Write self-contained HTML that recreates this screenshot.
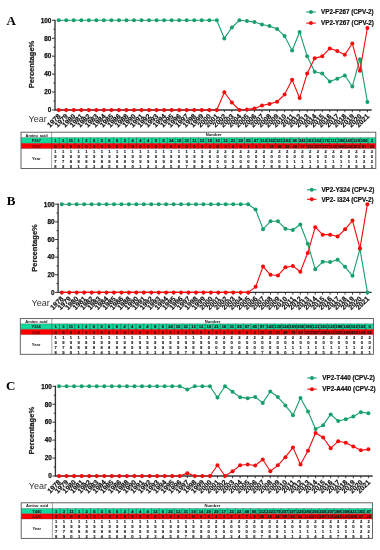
<!DOCTYPE html>
<html><head><meta charset="utf-8"><title>Figure</title><style>
html,body{margin:0;padding:0;background:#fff;}
body{width:380px;height:550px;overflow:hidden;}
svg{display:block;will-change:transform;filter:blur(0.25px);}
text{font-family:"Liberation Sans",sans-serif;}
.L{font-family:"Liberation Serif",serif;font-weight:bold;font-size:13px;fill:#000;}
.ax{stroke:#333;stroke-width:1.35;}
.tk{stroke:#222;stroke-width:0.9;fill:none;}
.yl{font-size:6.4px;font-weight:bold;text-anchor:end;fill:#111;stroke:#111;stroke-width:0.25px;}
.xl{font-size:7px;font-weight:bold;text-anchor:end;fill:#111;stroke:#111;stroke-width:0.2px;}
.yr{font-size:9px;fill:#333;}
.pc{font-size:7.6px;font-weight:bold;text-anchor:middle;fill:#222;stroke:#222;stroke-width:0.25px;}
.lg{font-size:6.3px;font-weight:bold;fill:#111;stroke:#111;stroke-width:0.2px;}
.th{font-size:4px;font-weight:bold;text-anchor:middle;fill:#111;}
.ta{font-size:4px;font-weight:bold;text-anchor:middle;fill:#111;}
.tr{fill:#600;}
.nb{font-size:4.2px;}
.aa{word-spacing:0.6px;}
.td{font-size:4.1px;font-weight:bold;text-anchor:middle;fill:#111;stroke:#111;stroke-width:0.12px;}
</style></head>
<body><svg width="380" height="550" viewBox="0 0 380 550">
<text x="6.6" y="25.0" class="L">A</text>
<line x1="55" y1="19.7" x2="55" y2="110.6" class="ax"/>
<line x1="52" y1="110" x2="55" y2="110" class="tk"/>
<text x="51.4" y="112.3" class="yl">0</text>
<line x1="53.4" y1="101.03" x2="55" y2="101.03" class="tk"/>
<line x1="52" y1="92.06" x2="55" y2="92.06" class="tk"/>
<text x="51.4" y="94.36" class="yl">20</text>
<line x1="53.4" y1="83.09" x2="55" y2="83.09" class="tk"/>
<line x1="52" y1="74.12" x2="55" y2="74.12" class="tk"/>
<text x="51.4" y="76.42" class="yl">40</text>
<line x1="53.4" y1="65.15" x2="55" y2="65.15" class="tk"/>
<line x1="52" y1="56.18" x2="55" y2="56.18" class="tk"/>
<text x="51.4" y="58.48" class="yl">60</text>
<line x1="53.4" y1="47.21" x2="55" y2="47.21" class="tk"/>
<line x1="52" y1="38.24" x2="55" y2="38.24" class="tk"/>
<text x="51.4" y="40.54" class="yl">80</text>
<line x1="53.4" y1="29.27" x2="55" y2="29.27" class="tk"/>
<line x1="52" y1="20.3" x2="55" y2="20.3" class="tk"/>
<text x="51.4" y="22.6" class="yl">100</text>
<line x1="55" y1="110" x2="371.7" y2="110" class="ax"/>
<path d="M58.7 110v2.2 M66.23 110v2.2 M73.76 110v2.2 M81.29 110v2.2 M88.82 110v2.2 M96.35 110v2.2 M103.88 110v2.2 M111.4 110v2.2 M118.93 110v2.2 M126.46 110v2.2 M133.99 110v2.2 M141.52 110v2.2 M149.05 110v2.2 M156.58 110v2.2 M164.11 110v2.2 M171.64 110v2.2 M179.17 110v2.2 M186.7 110v2.2 M194.23 110v2.2 M201.76 110v2.2 M209.29 110v2.2 M216.81 110v2.2 M224.34 110v2.2 M231.87 110v2.2 M239.4 110v2.2 M246.93 110v2.2 M254.46 110v2.2 M261.99 110v2.2 M269.52 110v2.2 M277.05 110v2.2 M284.58 110v2.2 M292.11 110v2.2 M299.64 110v2.2 M307.17 110v2.2 M314.7 110v2.2 M322.22 110v2.2 M329.75 110v2.2 M337.28 110v2.2 M344.81 110v2.2 M352.34 110v2.2 M359.87 110v2.2 M367.4 110v2.2" class="tk"/>
<text transform="translate(61,116.8) rotate(-45)" class="xl">1978</text>
<text transform="translate(68.53,116.8) rotate(-45)" class="xl">1979</text>
<text transform="translate(76.06,116.8) rotate(-45)" class="xl">1980</text>
<text transform="translate(83.59,116.8) rotate(-45)" class="xl">1981</text>
<text transform="translate(91.12,116.8) rotate(-45)" class="xl">1982</text>
<text transform="translate(98.65,116.8) rotate(-45)" class="xl">1983</text>
<text transform="translate(106.18,116.8) rotate(-45)" class="xl">1984</text>
<text transform="translate(113.7,116.8) rotate(-45)" class="xl">1985</text>
<text transform="translate(121.23,116.8) rotate(-45)" class="xl">1986</text>
<text transform="translate(128.76,116.8) rotate(-45)" class="xl">1988</text>
<text transform="translate(136.29,116.8) rotate(-45)" class="xl">1990</text>
<text transform="translate(143.82,116.8) rotate(-45)" class="xl">1991</text>
<text transform="translate(151.35,116.8) rotate(-45)" class="xl">1992</text>
<text transform="translate(158.88,116.8) rotate(-45)" class="xl">1993</text>
<text transform="translate(166.41,116.8) rotate(-45)" class="xl">1994</text>
<text transform="translate(173.94,116.8) rotate(-45)" class="xl">1995</text>
<text transform="translate(181.47,116.8) rotate(-45)" class="xl">1996</text>
<text transform="translate(189,116.8) rotate(-45)" class="xl">1997</text>
<text transform="translate(196.53,116.8) rotate(-45)" class="xl">1998</text>
<text transform="translate(204.06,116.8) rotate(-45)" class="xl">1999</text>
<text transform="translate(211.59,116.8) rotate(-45)" class="xl">2000</text>
<text transform="translate(219.11,116.8) rotate(-45)" class="xl">2001</text>
<text transform="translate(226.64,116.8) rotate(-45)" class="xl">2002</text>
<text transform="translate(234.17,116.8) rotate(-45)" class="xl">2003</text>
<text transform="translate(241.7,116.8) rotate(-45)" class="xl">2004</text>
<text transform="translate(249.23,116.8) rotate(-45)" class="xl">2005</text>
<text transform="translate(256.76,116.8) rotate(-45)" class="xl">2006</text>
<text transform="translate(264.29,116.8) rotate(-45)" class="xl">2007</text>
<text transform="translate(271.82,116.8) rotate(-45)" class="xl">2008</text>
<text transform="translate(279.35,116.8) rotate(-45)" class="xl">2009</text>
<text transform="translate(286.88,116.8) rotate(-45)" class="xl">2010</text>
<text transform="translate(294.41,116.8) rotate(-45)" class="xl">2011</text>
<text transform="translate(301.94,116.8) rotate(-45)" class="xl">2012</text>
<text transform="translate(309.47,116.8) rotate(-45)" class="xl">2013</text>
<text transform="translate(317,116.8) rotate(-45)" class="xl">2014</text>
<text transform="translate(324.52,116.8) rotate(-45)" class="xl">2015</text>
<text transform="translate(332.05,116.8) rotate(-45)" class="xl">2016</text>
<text transform="translate(339.58,116.8) rotate(-45)" class="xl">2017</text>
<text transform="translate(347.11,116.8) rotate(-45)" class="xl">2018</text>
<text transform="translate(354.64,116.8) rotate(-45)" class="xl">2019</text>
<text transform="translate(362.17,116.8) rotate(-45)" class="xl">2020</text>
<text transform="translate(369.7,116.8) rotate(-45)" class="xl">2021</text>
<text x="28.5" y="122.4" class="yr">Year</text>
<text transform="translate(33.8,64.5) rotate(-90)" class="pc">Percentage%</text>
<polyline points="58.7,20.3 66.23,20.3 73.76,20.3 81.29,20.3 88.82,20.3 96.35,20.3 103.88,20.3 111.4,20.3 118.93,20.3 126.46,20.3 133.99,20.3 141.52,20.3 149.05,20.3 156.58,20.3 164.11,20.3 171.64,20.3 179.17,20.3 186.7,20.3 194.23,20.3 201.76,20.3 209.29,20.3 216.81,20.3 224.34,38.42 231.87,27.48 239.4,20.3 246.93,21.02 254.46,22.09 261.99,24.52 269.52,26.04 277.05,28.91 284.58,36.09 292.11,50.44 299.64,31.96 307.17,56.36 314.7,71.79 322.22,73.58 329.75,81.48 337.28,78.78 344.81,75.47 352.34,86.5 359.87,59.14 367.4,101.93" fill="none" stroke="#17a06c" stroke-width="1.1" stroke-linejoin="round"/>
<g fill="#17a06c"><circle cx="58.7" cy="20.3" r="2"/><circle cx="66.23" cy="20.3" r="2"/><circle cx="73.76" cy="20.3" r="2"/><circle cx="81.29" cy="20.3" r="2"/><circle cx="88.82" cy="20.3" r="2"/><circle cx="96.35" cy="20.3" r="2"/><circle cx="103.88" cy="20.3" r="2"/><circle cx="111.4" cy="20.3" r="2"/><circle cx="118.93" cy="20.3" r="2"/><circle cx="126.46" cy="20.3" r="2"/><circle cx="133.99" cy="20.3" r="2"/><circle cx="141.52" cy="20.3" r="2"/><circle cx="149.05" cy="20.3" r="2"/><circle cx="156.58" cy="20.3" r="2"/><circle cx="164.11" cy="20.3" r="2"/><circle cx="171.64" cy="20.3" r="2"/><circle cx="179.17" cy="20.3" r="2"/><circle cx="186.7" cy="20.3" r="2"/><circle cx="194.23" cy="20.3" r="2"/><circle cx="201.76" cy="20.3" r="2"/><circle cx="209.29" cy="20.3" r="2"/><circle cx="216.81" cy="20.3" r="2"/><circle cx="224.34" cy="38.42" r="2"/><circle cx="231.87" cy="27.48" r="2"/><circle cx="239.4" cy="20.3" r="2"/><circle cx="246.93" cy="21.02" r="2"/><circle cx="254.46" cy="22.09" r="2"/><circle cx="261.99" cy="24.52" r="2"/><circle cx="269.52" cy="26.04" r="2"/><circle cx="277.05" cy="28.91" r="2"/><circle cx="284.58" cy="36.09" r="2"/><circle cx="292.11" cy="50.44" r="2"/><circle cx="299.64" cy="31.96" r="2"/><circle cx="307.17" cy="56.36" r="2"/><circle cx="314.7" cy="71.79" r="2"/><circle cx="322.22" cy="73.58" r="2"/><circle cx="329.75" cy="81.48" r="2"/><circle cx="337.28" cy="78.78" r="2"/><circle cx="344.81" cy="75.47" r="2"/><circle cx="352.34" cy="86.5" r="2"/><circle cx="359.87" cy="59.14" r="2"/><circle cx="367.4" cy="101.93" r="2"/></g>
<polyline points="58.7,110 66.23,110 73.76,110 81.29,110 88.82,110 96.35,110 103.88,110 111.4,110 118.93,110 126.46,110 133.99,110 141.52,110 149.05,110 156.58,110 164.11,110 171.64,110 179.17,110 186.7,110 194.23,110 201.76,110 209.29,110 216.81,110 224.34,92.24 231.87,102.55 239.4,110 246.93,109.46 254.46,108.39 261.99,105.52 269.52,103.9 277.05,101.75 284.58,94.57 292.11,79.86 299.64,98.07 307.17,73.58 314.7,58.15 322.22,56.36 329.75,48.38 337.28,51.07 344.81,54.66 352.34,43.53 359.87,70.8 367.4,28.01" fill="none" stroke="#f50a0a" stroke-width="1.1" stroke-linejoin="round"/>
<g fill="#f50a0a"><circle cx="58.7" cy="110" r="2"/><circle cx="66.23" cy="110" r="2"/><circle cx="73.76" cy="110" r="2"/><circle cx="81.29" cy="110" r="2"/><circle cx="88.82" cy="110" r="2"/><circle cx="96.35" cy="110" r="2"/><circle cx="103.88" cy="110" r="2"/><circle cx="111.4" cy="110" r="2"/><circle cx="118.93" cy="110" r="2"/><circle cx="126.46" cy="110" r="2"/><circle cx="133.99" cy="110" r="2"/><circle cx="141.52" cy="110" r="2"/><circle cx="149.05" cy="110" r="2"/><circle cx="156.58" cy="110" r="2"/><circle cx="164.11" cy="110" r="2"/><circle cx="171.64" cy="110" r="2"/><circle cx="179.17" cy="110" r="2"/><circle cx="186.7" cy="110" r="2"/><circle cx="194.23" cy="110" r="2"/><circle cx="201.76" cy="110" r="2"/><circle cx="209.29" cy="110" r="2"/><circle cx="216.81" cy="110" r="2"/><circle cx="224.34" cy="92.24" r="2"/><circle cx="231.87" cy="102.55" r="2"/><circle cx="239.4" cy="110" r="2"/><circle cx="246.93" cy="109.46" r="2"/><circle cx="254.46" cy="108.39" r="2"/><circle cx="261.99" cy="105.52" r="2"/><circle cx="269.52" cy="103.9" r="2"/><circle cx="277.05" cy="101.75" r="2"/><circle cx="284.58" cy="94.57" r="2"/><circle cx="292.11" cy="79.86" r="2"/><circle cx="299.64" cy="98.07" r="2"/><circle cx="307.17" cy="73.58" r="2"/><circle cx="314.7" cy="58.15" r="2"/><circle cx="322.22" cy="56.36" r="2"/><circle cx="329.75" cy="48.38" r="2"/><circle cx="337.28" cy="51.07" r="2"/><circle cx="344.81" cy="54.66" r="2"/><circle cx="352.34" cy="43.53" r="2"/><circle cx="359.87" cy="70.8" r="2"/><circle cx="367.4" cy="28.01" r="2"/></g>
<line x1="306.2" y1="12" x2="315.7" y2="12" stroke="#17a06c" stroke-width="1.1"/>
<circle cx="310.95" cy="12" r="2" fill="#17a06c"/>
<text x="321.1" y="14.2" class="lg">VP2-F267 (CPV-2)</text>
<line x1="306.2" y1="23.1" x2="315.7" y2="23.1" stroke="#f50a0a" stroke-width="1.1"/>
<circle cx="310.95" cy="23.1" r="2" fill="#f50a0a"/>
<text x="321.1" y="25.3" class="lg">VP2-Y267 (CPV-2)</text>
<text x="6.7" y="204.5" class="L">B</text>
<line x1="58.1" y1="203.6" x2="58.1" y2="293" class="ax"/>
<line x1="55.1" y1="292.4" x2="58.1" y2="292.4" class="tk"/>
<text x="54.5" y="294.7" class="yl">0</text>
<line x1="56.5" y1="283.58" x2="58.1" y2="283.58" class="tk"/>
<line x1="55.1" y1="274.76" x2="58.1" y2="274.76" class="tk"/>
<text x="54.5" y="277.06" class="yl">20</text>
<line x1="56.5" y1="265.94" x2="58.1" y2="265.94" class="tk"/>
<line x1="55.1" y1="257.12" x2="58.1" y2="257.12" class="tk"/>
<text x="54.5" y="259.42" class="yl">40</text>
<line x1="56.5" y1="248.3" x2="58.1" y2="248.3" class="tk"/>
<line x1="55.1" y1="239.48" x2="58.1" y2="239.48" class="tk"/>
<text x="54.5" y="241.78" class="yl">60</text>
<line x1="56.5" y1="230.66" x2="58.1" y2="230.66" class="tk"/>
<line x1="55.1" y1="221.84" x2="58.1" y2="221.84" class="tk"/>
<text x="54.5" y="224.14" class="yl">80</text>
<line x1="56.5" y1="213.02" x2="58.1" y2="213.02" class="tk"/>
<line x1="55.1" y1="204.2" x2="58.1" y2="204.2" class="tk"/>
<text x="54.5" y="206.5" class="yl">100</text>
<line x1="58.1" y1="292.4" x2="371.7" y2="292.4" class="ax"/>
<path d="M61.8 292.4v2.2 M69.25 292.4v2.2 M76.71 292.4v2.2 M84.16 292.4v2.2 M91.61 292.4v2.2 M99.07 292.4v2.2 M106.52 292.4v2.2 M113.98 292.4v2.2 M121.43 292.4v2.2 M128.88 292.4v2.2 M136.34 292.4v2.2 M143.79 292.4v2.2 M151.24 292.4v2.2 M158.7 292.4v2.2 M166.15 292.4v2.2 M173.6 292.4v2.2 M181.06 292.4v2.2 M188.51 292.4v2.2 M195.97 292.4v2.2 M203.42 292.4v2.2 M210.87 292.4v2.2 M218.33 292.4v2.2 M225.78 292.4v2.2 M233.23 292.4v2.2 M240.69 292.4v2.2 M248.14 292.4v2.2 M255.6 292.4v2.2 M263.05 292.4v2.2 M270.5 292.4v2.2 M277.96 292.4v2.2 M285.41 292.4v2.2 M292.86 292.4v2.2 M300.32 292.4v2.2 M307.77 292.4v2.2 M315.22 292.4v2.2 M322.68 292.4v2.2 M330.13 292.4v2.2 M337.59 292.4v2.2 M345.04 292.4v2.2 M352.49 292.4v2.2 M359.95 292.4v2.2 M367.4 292.4v2.2" class="tk"/>
<text transform="translate(64.1,299.2) rotate(-45)" class="xl">1978</text>
<text transform="translate(71.55,299.2) rotate(-45)" class="xl">1979</text>
<text transform="translate(79.01,299.2) rotate(-45)" class="xl">1980</text>
<text transform="translate(86.46,299.2) rotate(-45)" class="xl">1981</text>
<text transform="translate(93.91,299.2) rotate(-45)" class="xl">1982</text>
<text transform="translate(101.37,299.2) rotate(-45)" class="xl">1983</text>
<text transform="translate(108.82,299.2) rotate(-45)" class="xl">1984</text>
<text transform="translate(116.28,299.2) rotate(-45)" class="xl">1985</text>
<text transform="translate(123.73,299.2) rotate(-45)" class="xl">1986</text>
<text transform="translate(131.18,299.2) rotate(-45)" class="xl">1988</text>
<text transform="translate(138.64,299.2) rotate(-45)" class="xl">1990</text>
<text transform="translate(146.09,299.2) rotate(-45)" class="xl">1991</text>
<text transform="translate(153.54,299.2) rotate(-45)" class="xl">1992</text>
<text transform="translate(161,299.2) rotate(-45)" class="xl">1993</text>
<text transform="translate(168.45,299.2) rotate(-45)" class="xl">1994</text>
<text transform="translate(175.9,299.2) rotate(-45)" class="xl">1995</text>
<text transform="translate(183.36,299.2) rotate(-45)" class="xl">1996</text>
<text transform="translate(190.81,299.2) rotate(-45)" class="xl">1997</text>
<text transform="translate(198.27,299.2) rotate(-45)" class="xl">1998</text>
<text transform="translate(205.72,299.2) rotate(-45)" class="xl">1999</text>
<text transform="translate(213.17,299.2) rotate(-45)" class="xl">2000</text>
<text transform="translate(220.63,299.2) rotate(-45)" class="xl">2001</text>
<text transform="translate(228.08,299.2) rotate(-45)" class="xl">2002</text>
<text transform="translate(235.53,299.2) rotate(-45)" class="xl">2003</text>
<text transform="translate(242.99,299.2) rotate(-45)" class="xl">2004</text>
<text transform="translate(250.44,299.2) rotate(-45)" class="xl">2005</text>
<text transform="translate(257.9,299.2) rotate(-45)" class="xl">2006</text>
<text transform="translate(265.35,299.2) rotate(-45)" class="xl">2007</text>
<text transform="translate(272.8,299.2) rotate(-45)" class="xl">2008</text>
<text transform="translate(280.26,299.2) rotate(-45)" class="xl">2009</text>
<text transform="translate(287.71,299.2) rotate(-45)" class="xl">2010</text>
<text transform="translate(295.16,299.2) rotate(-45)" class="xl">2011</text>
<text transform="translate(302.62,299.2) rotate(-45)" class="xl">2012</text>
<text transform="translate(310.07,299.2) rotate(-45)" class="xl">2013</text>
<text transform="translate(317.52,299.2) rotate(-45)" class="xl">2014</text>
<text transform="translate(324.98,299.2) rotate(-45)" class="xl">2015</text>
<text transform="translate(332.43,299.2) rotate(-45)" class="xl">2016</text>
<text transform="translate(339.89,299.2) rotate(-45)" class="xl">2017</text>
<text transform="translate(347.34,299.2) rotate(-45)" class="xl">2018</text>
<text transform="translate(354.79,299.2) rotate(-45)" class="xl">2019</text>
<text transform="translate(362.25,299.2) rotate(-45)" class="xl">2020</text>
<text transform="translate(369.7,299.2) rotate(-45)" class="xl">2021</text>
<text x="31.5" y="305.5" class="yr">Year</text>
<text transform="translate(37,248) rotate(-90)" class="pc">Percentage%</text>
<polyline points="61.8,204.2 69.25,204.2 76.71,204.2 84.16,204.2 91.61,204.2 99.07,204.2 106.52,204.2 113.98,204.2 121.43,204.2 128.88,204.2 136.34,204.2 143.79,204.2 151.24,204.2 158.7,204.2 166.15,204.2 173.6,204.2 181.06,204.2 188.51,204.2 195.97,204.2 203.42,204.2 210.87,204.2 218.33,204.2 225.78,204.2 233.23,204.2 240.69,204.2 248.14,204.2 255.6,209.49 263.05,229.16 270.5,221.31 277.96,221.31 285.41,228.72 292.86,230.04 300.32,224.49 307.77,243.71 315.22,269.2 322.68,261.79 330.13,262.06 337.59,259.68 345.04,266.82 352.49,275.82 359.95,249.01 367.4,292.4" fill="none" stroke="#17a06c" stroke-width="1.1" stroke-linejoin="round"/>
<g fill="#17a06c"><circle cx="61.8" cy="204.2" r="2"/><circle cx="69.25" cy="204.2" r="2"/><circle cx="76.71" cy="204.2" r="2"/><circle cx="84.16" cy="204.2" r="2"/><circle cx="91.61" cy="204.2" r="2"/><circle cx="99.07" cy="204.2" r="2"/><circle cx="106.52" cy="204.2" r="2"/><circle cx="113.98" cy="204.2" r="2"/><circle cx="121.43" cy="204.2" r="2"/><circle cx="128.88" cy="204.2" r="2"/><circle cx="136.34" cy="204.2" r="2"/><circle cx="143.79" cy="204.2" r="2"/><circle cx="151.24" cy="204.2" r="2"/><circle cx="158.7" cy="204.2" r="2"/><circle cx="166.15" cy="204.2" r="2"/><circle cx="173.6" cy="204.2" r="2"/><circle cx="181.06" cy="204.2" r="2"/><circle cx="188.51" cy="204.2" r="2"/><circle cx="195.97" cy="204.2" r="2"/><circle cx="203.42" cy="204.2" r="2"/><circle cx="210.87" cy="204.2" r="2"/><circle cx="218.33" cy="204.2" r="2"/><circle cx="225.78" cy="204.2" r="2"/><circle cx="233.23" cy="204.2" r="2"/><circle cx="240.69" cy="204.2" r="2"/><circle cx="248.14" cy="204.2" r="2"/><circle cx="255.6" cy="209.49" r="2"/><circle cx="263.05" cy="229.16" r="2"/><circle cx="270.5" cy="221.31" r="2"/><circle cx="277.96" cy="221.31" r="2"/><circle cx="285.41" cy="228.72" r="2"/><circle cx="292.86" cy="230.04" r="2"/><circle cx="300.32" cy="224.49" r="2"/><circle cx="307.77" cy="243.71" r="2"/><circle cx="315.22" cy="269.2" r="2"/><circle cx="322.68" cy="261.79" r="2"/><circle cx="330.13" cy="262.06" r="2"/><circle cx="337.59" cy="259.68" r="2"/><circle cx="345.04" cy="266.82" r="2"/><circle cx="352.49" cy="275.82" r="2"/><circle cx="359.95" cy="249.01" r="2"/><circle cx="367.4" cy="292.4" r="2"/></g>
<polyline points="61.8,292.4 69.25,292.4 76.71,292.4 84.16,292.4 91.61,292.4 99.07,292.4 106.52,292.4 113.98,292.4 121.43,292.4 128.88,292.4 136.34,292.4 143.79,292.4 151.24,292.4 158.7,292.4 166.15,292.4 173.6,292.4 181.06,292.4 188.51,292.4 195.97,292.4 203.42,292.4 210.87,292.4 218.33,292.4 225.78,292.4 233.23,292.4 240.69,292.4 248.14,292.4 255.6,286.84 263.05,266.56 270.5,274.76 277.96,275.47 285.41,267.35 292.86,265.94 300.32,271.76 307.77,252.89 315.22,227.13 322.68,234.63 330.13,234.63 337.59,236.48 345.04,229.34 352.49,220.61 359.95,248.3 367.4,204.2" fill="none" stroke="#f50a0a" stroke-width="1.1" stroke-linejoin="round"/>
<g fill="#f50a0a"><circle cx="61.8" cy="292.4" r="2"/><circle cx="69.25" cy="292.4" r="2"/><circle cx="76.71" cy="292.4" r="2"/><circle cx="84.16" cy="292.4" r="2"/><circle cx="91.61" cy="292.4" r="2"/><circle cx="99.07" cy="292.4" r="2"/><circle cx="106.52" cy="292.4" r="2"/><circle cx="113.98" cy="292.4" r="2"/><circle cx="121.43" cy="292.4" r="2"/><circle cx="128.88" cy="292.4" r="2"/><circle cx="136.34" cy="292.4" r="2"/><circle cx="143.79" cy="292.4" r="2"/><circle cx="151.24" cy="292.4" r="2"/><circle cx="158.7" cy="292.4" r="2"/><circle cx="166.15" cy="292.4" r="2"/><circle cx="173.6" cy="292.4" r="2"/><circle cx="181.06" cy="292.4" r="2"/><circle cx="188.51" cy="292.4" r="2"/><circle cx="195.97" cy="292.4" r="2"/><circle cx="203.42" cy="292.4" r="2"/><circle cx="210.87" cy="292.4" r="2"/><circle cx="218.33" cy="292.4" r="2"/><circle cx="225.78" cy="292.4" r="2"/><circle cx="233.23" cy="292.4" r="2"/><circle cx="240.69" cy="292.4" r="2"/><circle cx="248.14" cy="292.4" r="2"/><circle cx="255.6" cy="286.84" r="2"/><circle cx="263.05" cy="266.56" r="2"/><circle cx="270.5" cy="274.76" r="2"/><circle cx="277.96" cy="275.47" r="2"/><circle cx="285.41" cy="267.35" r="2"/><circle cx="292.86" cy="265.94" r="2"/><circle cx="300.32" cy="271.76" r="2"/><circle cx="307.77" cy="252.89" r="2"/><circle cx="315.22" cy="227.13" r="2"/><circle cx="322.68" cy="234.63" r="2"/><circle cx="330.13" cy="234.63" r="2"/><circle cx="337.59" cy="236.48" r="2"/><circle cx="345.04" cy="229.34" r="2"/><circle cx="352.49" cy="220.61" r="2"/><circle cx="359.95" cy="248.3" r="2"/><circle cx="367.4" cy="204.2" r="2"/></g>
<line x1="307" y1="189.8" x2="316.5" y2="189.8" stroke="#17a06c" stroke-width="1.1"/>
<circle cx="311.75" cy="189.8" r="2" fill="#17a06c"/>
<text x="321.4" y="192" class="lg">VP2-Y324 (CPV-2)</text>
<line x1="307" y1="199.3" x2="316.5" y2="199.3" stroke="#f50a0a" stroke-width="1.1"/>
<circle cx="311.75" cy="199.3" r="2" fill="#f50a0a"/>
<text x="321.4" y="201.5" class="lg">VP2- I324 (CPV-2)</text>
<text x="6.1" y="390.4" class="L">C</text>
<line x1="55.4" y1="385.7" x2="55.4" y2="476.6" class="ax"/>
<line x1="52.4" y1="476" x2="55.4" y2="476" class="tk"/>
<text x="51.8" y="478.3" class="yl">0</text>
<line x1="53.8" y1="467.03" x2="55.4" y2="467.03" class="tk"/>
<line x1="52.4" y1="458.06" x2="55.4" y2="458.06" class="tk"/>
<text x="51.8" y="460.36" class="yl">20</text>
<line x1="53.8" y1="449.09" x2="55.4" y2="449.09" class="tk"/>
<line x1="52.4" y1="440.12" x2="55.4" y2="440.12" class="tk"/>
<text x="51.8" y="442.42" class="yl">40</text>
<line x1="53.8" y1="431.15" x2="55.4" y2="431.15" class="tk"/>
<line x1="52.4" y1="422.18" x2="55.4" y2="422.18" class="tk"/>
<text x="51.8" y="424.48" class="yl">60</text>
<line x1="53.8" y1="413.21" x2="55.4" y2="413.21" class="tk"/>
<line x1="52.4" y1="404.24" x2="55.4" y2="404.24" class="tk"/>
<text x="51.8" y="406.54" class="yl">80</text>
<line x1="53.8" y1="395.27" x2="55.4" y2="395.27" class="tk"/>
<line x1="52.4" y1="386.3" x2="55.4" y2="386.3" class="tk"/>
<text x="51.8" y="388.6" class="yl">100</text>
<line x1="55.4" y1="476" x2="372.7" y2="476" class="ax"/>
<path d="M59 476v2.2 M66.55 476v2.2 M74.09 476v2.2 M81.64 476v2.2 M89.19 476v2.2 M96.73 476v2.2 M104.28 476v2.2 M111.82 476v2.2 M119.37 476v2.2 M126.92 476v2.2 M134.46 476v2.2 M142.01 476v2.2 M149.56 476v2.2 M157.1 476v2.2 M164.65 476v2.2 M172.2 476v2.2 M179.74 476v2.2 M187.29 476v2.2 M194.83 476v2.2 M202.38 476v2.2 M209.93 476v2.2 M217.47 476v2.2 M225.02 476v2.2 M232.57 476v2.2 M240.11 476v2.2 M247.66 476v2.2 M255.2 476v2.2 M262.75 476v2.2 M270.3 476v2.2 M277.84 476v2.2 M285.39 476v2.2 M292.94 476v2.2 M300.48 476v2.2 M308.03 476v2.2 M315.58 476v2.2 M323.12 476v2.2 M330.67 476v2.2 M338.21 476v2.2 M345.76 476v2.2 M353.31 476v2.2 M360.85 476v2.2 M368.4 476v2.2" class="tk"/>
<text transform="translate(61.3,482.8) rotate(-45)" class="xl">1978</text>
<text transform="translate(68.85,482.8) rotate(-45)" class="xl">1979</text>
<text transform="translate(76.39,482.8) rotate(-45)" class="xl">1980</text>
<text transform="translate(83.94,482.8) rotate(-45)" class="xl">1981</text>
<text transform="translate(91.49,482.8) rotate(-45)" class="xl">1982</text>
<text transform="translate(99.03,482.8) rotate(-45)" class="xl">1983</text>
<text transform="translate(106.58,482.8) rotate(-45)" class="xl">1984</text>
<text transform="translate(114.12,482.8) rotate(-45)" class="xl">1985</text>
<text transform="translate(121.67,482.8) rotate(-45)" class="xl">1986</text>
<text transform="translate(129.22,482.8) rotate(-45)" class="xl">1988</text>
<text transform="translate(136.76,482.8) rotate(-45)" class="xl">1990</text>
<text transform="translate(144.31,482.8) rotate(-45)" class="xl">1991</text>
<text transform="translate(151.86,482.8) rotate(-45)" class="xl">1992</text>
<text transform="translate(159.4,482.8) rotate(-45)" class="xl">1993</text>
<text transform="translate(166.95,482.8) rotate(-45)" class="xl">1994</text>
<text transform="translate(174.5,482.8) rotate(-45)" class="xl">1995</text>
<text transform="translate(182.04,482.8) rotate(-45)" class="xl">1996</text>
<text transform="translate(189.59,482.8) rotate(-45)" class="xl">1997</text>
<text transform="translate(197.13,482.8) rotate(-45)" class="xl">1998</text>
<text transform="translate(204.68,482.8) rotate(-45)" class="xl">1999</text>
<text transform="translate(212.23,482.8) rotate(-45)" class="xl">2000</text>
<text transform="translate(219.77,482.8) rotate(-45)" class="xl">2001</text>
<text transform="translate(227.32,482.8) rotate(-45)" class="xl">2002</text>
<text transform="translate(234.87,482.8) rotate(-45)" class="xl">2003</text>
<text transform="translate(242.41,482.8) rotate(-45)" class="xl">2004</text>
<text transform="translate(249.96,482.8) rotate(-45)" class="xl">2005</text>
<text transform="translate(257.5,482.8) rotate(-45)" class="xl">2006</text>
<text transform="translate(265.05,482.8) rotate(-45)" class="xl">2007</text>
<text transform="translate(272.6,482.8) rotate(-45)" class="xl">2008</text>
<text transform="translate(280.14,482.8) rotate(-45)" class="xl">2009</text>
<text transform="translate(287.69,482.8) rotate(-45)" class="xl">2010</text>
<text transform="translate(295.24,482.8) rotate(-45)" class="xl">2011</text>
<text transform="translate(302.78,482.8) rotate(-45)" class="xl">2012</text>
<text transform="translate(310.33,482.8) rotate(-45)" class="xl">2013</text>
<text transform="translate(317.88,482.8) rotate(-45)" class="xl">2014</text>
<text transform="translate(325.42,482.8) rotate(-45)" class="xl">2015</text>
<text transform="translate(332.97,482.8) rotate(-45)" class="xl">2016</text>
<text transform="translate(340.51,482.8) rotate(-45)" class="xl">2017</text>
<text transform="translate(348.06,482.8) rotate(-45)" class="xl">2018</text>
<text transform="translate(355.61,482.8) rotate(-45)" class="xl">2019</text>
<text transform="translate(363.15,482.8) rotate(-45)" class="xl">2020</text>
<text transform="translate(370.7,482.8) rotate(-45)" class="xl">2021</text>
<text x="28.8" y="488.8" class="yr">Year</text>
<text transform="translate(33.9,430.7) rotate(-90)" class="pc">Percentage%</text>
<polyline points="59,386.3 66.55,386.3 74.09,386.3 81.64,386.3 89.19,386.3 96.73,386.3 104.28,386.3 111.82,386.3 119.37,386.3 126.92,386.3 134.46,386.3 142.01,386.3 149.56,386.3 157.1,386.3 164.65,386.3 172.2,386.3 179.74,386.3 187.29,389.53 194.83,386.3 202.38,386.3 209.93,386.3 217.47,397.6 225.02,386.3 232.57,391.77 240.11,397.33 247.66,398.14 255.2,397.06 262.75,402.89 270.3,391.5 277.84,397.06 285.39,405.41 292.94,415.18 300.48,397.96 308.03,411.51 315.58,429.09 323.12,425.14 330.67,414.38 338.21,421.01 345.76,419.31 353.31,416.44 360.85,412.13 368.4,413.21" fill="none" stroke="#17a06c" stroke-width="1.1" stroke-linejoin="round"/>
<g fill="#17a06c"><circle cx="59" cy="386.3" r="2"/><circle cx="66.55" cy="386.3" r="2"/><circle cx="74.09" cy="386.3" r="2"/><circle cx="81.64" cy="386.3" r="2"/><circle cx="89.19" cy="386.3" r="2"/><circle cx="96.73" cy="386.3" r="2"/><circle cx="104.28" cy="386.3" r="2"/><circle cx="111.82" cy="386.3" r="2"/><circle cx="119.37" cy="386.3" r="2"/><circle cx="126.92" cy="386.3" r="2"/><circle cx="134.46" cy="386.3" r="2"/><circle cx="142.01" cy="386.3" r="2"/><circle cx="149.56" cy="386.3" r="2"/><circle cx="157.1" cy="386.3" r="2"/><circle cx="164.65" cy="386.3" r="2"/><circle cx="172.2" cy="386.3" r="2"/><circle cx="179.74" cy="386.3" r="2"/><circle cx="187.29" cy="389.53" r="2"/><circle cx="194.83" cy="386.3" r="2"/><circle cx="202.38" cy="386.3" r="2"/><circle cx="209.93" cy="386.3" r="2"/><circle cx="217.47" cy="397.6" r="2"/><circle cx="225.02" cy="386.3" r="2"/><circle cx="232.57" cy="391.77" r="2"/><circle cx="240.11" cy="397.33" r="2"/><circle cx="247.66" cy="398.14" r="2"/><circle cx="255.2" cy="397.06" r="2"/><circle cx="262.75" cy="402.89" r="2"/><circle cx="270.3" cy="391.5" r="2"/><circle cx="277.84" cy="397.06" r="2"/><circle cx="285.39" cy="405.41" r="2"/><circle cx="292.94" cy="415.18" r="2"/><circle cx="300.48" cy="397.96" r="2"/><circle cx="308.03" cy="411.51" r="2"/><circle cx="315.58" cy="429.09" r="2"/><circle cx="323.12" cy="425.14" r="2"/><circle cx="330.67" cy="414.38" r="2"/><circle cx="338.21" cy="421.01" r="2"/><circle cx="345.76" cy="419.31" r="2"/><circle cx="353.31" cy="416.44" r="2"/><circle cx="360.85" cy="412.13" r="2"/><circle cx="368.4" cy="413.21" r="2"/></g>
<polyline points="59,476 66.55,476 74.09,476 81.64,476 89.19,476 96.73,476 104.28,476 111.82,476 119.37,476 126.92,476 134.46,476 142.01,476 149.56,476 157.1,476 164.65,476 172.2,476 179.74,476 187.29,473.13 194.83,476 202.38,476 209.93,476 217.47,465.24 225.02,476 232.57,471.34 240.11,465.24 247.66,464.43 255.2,465.51 262.75,459.5 270.3,471.25 277.84,465.33 285.39,457.16 292.94,447.39 300.48,464.43 308.03,450.79 315.58,432.94 323.12,437.52 330.67,448.19 338.21,441.29 345.76,442.72 353.31,446.49 360.85,450.26 368.4,449.36" fill="none" stroke="#f50a0a" stroke-width="1.1" stroke-linejoin="round"/>
<g fill="#f50a0a"><circle cx="59" cy="476" r="2"/><circle cx="66.55" cy="476" r="2"/><circle cx="74.09" cy="476" r="2"/><circle cx="81.64" cy="476" r="2"/><circle cx="89.19" cy="476" r="2"/><circle cx="96.73" cy="476" r="2"/><circle cx="104.28" cy="476" r="2"/><circle cx="111.82" cy="476" r="2"/><circle cx="119.37" cy="476" r="2"/><circle cx="126.92" cy="476" r="2"/><circle cx="134.46" cy="476" r="2"/><circle cx="142.01" cy="476" r="2"/><circle cx="149.56" cy="476" r="2"/><circle cx="157.1" cy="476" r="2"/><circle cx="164.65" cy="476" r="2"/><circle cx="172.2" cy="476" r="2"/><circle cx="179.74" cy="476" r="2"/><circle cx="187.29" cy="473.13" r="2"/><circle cx="194.83" cy="476" r="2"/><circle cx="202.38" cy="476" r="2"/><circle cx="209.93" cy="476" r="2"/><circle cx="217.47" cy="465.24" r="2"/><circle cx="225.02" cy="476" r="2"/><circle cx="232.57" cy="471.34" r="2"/><circle cx="240.11" cy="465.24" r="2"/><circle cx="247.66" cy="464.43" r="2"/><circle cx="255.2" cy="465.51" r="2"/><circle cx="262.75" cy="459.5" r="2"/><circle cx="270.3" cy="471.25" r="2"/><circle cx="277.84" cy="465.33" r="2"/><circle cx="285.39" cy="457.16" r="2"/><circle cx="292.94" cy="447.39" r="2"/><circle cx="300.48" cy="464.43" r="2"/><circle cx="308.03" cy="450.79" r="2"/><circle cx="315.58" cy="432.94" r="2"/><circle cx="323.12" cy="437.52" r="2"/><circle cx="330.67" cy="448.19" r="2"/><circle cx="338.21" cy="441.29" r="2"/><circle cx="345.76" cy="442.72" r="2"/><circle cx="353.31" cy="446.49" r="2"/><circle cx="360.85" cy="450.26" r="2"/><circle cx="368.4" cy="449.36" r="2"/></g>
<line x1="307.2" y1="378" x2="316.7" y2="378" stroke="#17a06c" stroke-width="1.1"/>
<circle cx="311.95" cy="378" r="2" fill="#17a06c"/>
<text x="322.3" y="380.2" class="lg">VP2-T440 (CPV-2)</text>
<line x1="307.2" y1="389.2" x2="316.7" y2="389.2" stroke="#f50a0a" stroke-width="1.1"/>
<circle cx="311.95" cy="389.2" r="2" fill="#f50a0a"/>
<text x="322.3" y="391.4" class="lg">VP2-A440 (CPV-2)</text>
<rect x="21" y="137.6" width="354.8" height="5.7" fill="#14d99d"/>
<rect x="21" y="143.3" width="354.8" height="5.2" fill="#fe0000"/>
<path d="M21 137.6H375.8M21 143.3H375.8M21 148.5H375.8" stroke="#333" stroke-width="0.3" fill="none"/>
<path d="M51.6 132.2V168.5M59.32 137.6V148.5M67.04 137.6V148.5M74.76 137.6V148.5M82.48 137.6V148.5M90.2 137.6V148.5M97.91 137.6V148.5M105.63 137.6V148.5M113.35 137.6V148.5M121.07 137.6V148.5M128.79 137.6V148.5M136.51 137.6V148.5M144.23 137.6V148.5M151.95 137.6V148.5M159.67 137.6V148.5M167.39 137.6V148.5M175.1 137.6V148.5M182.82 137.6V148.5M190.54 137.6V148.5M198.26 137.6V148.5M205.98 137.6V148.5M213.7 137.6V148.5M221.42 137.6V148.5M229.14 137.6V148.5M236.86 137.6V148.5M244.58 137.6V148.5M252.3 137.6V148.5M260.01 137.6V148.5M267.73 137.6V148.5M275.45 137.6V148.5M283.17 137.6V148.5M290.89 137.6V148.5M298.61 137.6V148.5M306.33 137.6V148.5M314.05 137.6V148.5M321.77 137.6V148.5M329.49 137.6V148.5M337.2 137.6V148.5M344.92 137.6V148.5M352.64 137.6V148.5M360.36 137.6V148.5M368.08 137.6V148.5" stroke="#222" stroke-width="0.4" fill="none"/>
<rect x="21" y="132.2" width="354.8" height="36.3" fill="none" stroke="#555" stroke-width="0.9"/>
<text x="36.6" y="136.5" class="th aa">Amino acid</text>
<text x="213.7" y="136.3" class="th nb">Number</text>
<text x="36.3" y="142" class="ta">F267</text>
<text x="36.3" y="147.6" class="ta tr">Y267</text>
<text x="55.46" y="141.9" class="td">1</text>
<text x="55.46" y="147.5" class="td">0</text>
<text x="63.18" y="141.9" class="td">3</text>
<text x="63.18" y="147.5" class="td">0</text>
<text x="70.9" y="141.9" class="td">11</text>
<text x="70.9" y="147.5" class="td">0</text>
<text x="78.62" y="141.9" class="td">1</text>
<text x="78.62" y="147.5" class="td">0</text>
<text x="86.34" y="141.9" class="td">2</text>
<text x="86.34" y="147.5" class="td">0</text>
<text x="94.05" y="141.9" class="td">6</text>
<text x="94.05" y="147.5" class="td">0</text>
<text x="101.77" y="141.9" class="td">5</text>
<text x="101.77" y="147.5" class="td">0</text>
<text x="109.49" y="141.9" class="td">6</text>
<text x="109.49" y="147.5" class="td">0</text>
<text x="117.21" y="141.9" class="td">6</text>
<text x="117.21" y="147.5" class="td">0</text>
<text x="124.93" y="141.9" class="td">2</text>
<text x="124.93" y="147.5" class="td">0</text>
<text x="132.65" y="141.9" class="td">4</text>
<text x="132.65" y="147.5" class="td">0</text>
<text x="140.37" y="141.9" class="td">4</text>
<text x="140.37" y="147.5" class="td">0</text>
<text x="148.09" y="141.9" class="td">4</text>
<text x="148.09" y="147.5" class="td">0</text>
<text x="155.81" y="141.9" class="td">9</text>
<text x="155.81" y="147.5" class="td">0</text>
<text x="163.53" y="141.9" class="td">6</text>
<text x="163.53" y="147.5" class="td">0</text>
<text x="171.25" y="141.9" class="td">24</text>
<text x="171.25" y="147.5" class="td">0</text>
<text x="178.96" y="141.9" class="td">10</text>
<text x="178.96" y="147.5" class="td">0</text>
<text x="186.68" y="141.9" class="td">31</text>
<text x="186.68" y="147.5" class="td">0</text>
<text x="194.4" y="141.9" class="td">11</text>
<text x="194.4" y="147.5" class="td">0</text>
<text x="202.12" y="141.9" class="td">13</text>
<text x="202.12" y="147.5" class="td">0</text>
<text x="209.84" y="141.9" class="td">19</text>
<text x="209.84" y="147.5" class="td">0</text>
<text x="217.56" y="141.9" class="td">10</text>
<text x="217.56" y="147.5" class="td">0</text>
<text x="225.28" y="141.9" class="td">13</text>
<text x="225.28" y="147.5" class="td">3</text>
<text x="233" y="141.9" class="td">21</text>
<text x="233" y="147.5" class="td">2</text>
<text x="240.72" y="141.9" class="td">22</text>
<text x="240.72" y="147.5" class="td">0</text>
<text x="248.44" y="141.9" class="td">65</text>
<text x="248.44" y="147.5" class="td">1</text>
<text x="256.15" y="141.9" class="td">47</text>
<text x="256.15" y="147.5" class="td">1</text>
<text x="263.87" y="141.9" class="td">116</text>
<text x="263.87" y="147.5" class="td">6</text>
<text x="271.59" y="141.9" class="td">162</text>
<text x="271.59" y="147.5" class="td">11</text>
<text x="279.31" y="141.9" class="td">151</text>
<text x="279.31" y="147.5" class="td">16</text>
<text x="287.03" y="141.9" class="td">102</text>
<text x="287.03" y="147.5" class="td">22</text>
<text x="294.75" y="141.9" class="td">96</text>
<text x="294.75" y="147.5" class="td">48</text>
<text x="302.47" y="141.9" class="td">241</text>
<text x="302.47" y="147.5" class="td">37</text>
<text x="310.19" y="141.9" class="td">163</text>
<text x="310.19" y="147.5" class="td">111</text>
<text x="317.91" y="141.9" class="td">162</text>
<text x="317.91" y="147.5" class="td">217</text>
<text x="325.63" y="141.9" class="td">176</text>
<text x="325.63" y="147.5" class="td">257</text>
<text x="333.35" y="141.9" class="td">111</text>
<text x="333.35" y="147.5" class="td">236</text>
<text x="341.06" y="141.9" class="td">196</text>
<text x="341.06" y="147.5" class="td">368</text>
<text x="348.78" y="141.9" class="td">145</text>
<text x="348.78" y="147.5" class="td">232</text>
<text x="356.5" y="141.9" class="td">129</text>
<text x="356.5" y="147.5" class="td">363</text>
<text x="364.22" y="141.9" class="td">106</text>
<text x="364.22" y="147.5" class="td">81</text>
<text x="371.94" y="141.9" class="td">3</text>
<text x="371.94" y="147.5" class="td">31</text>
<text y="152.6" class="td"><tspan x="55.46">1</tspan><tspan x="63.18">1</tspan><tspan x="70.9">1</tspan><tspan x="78.62">1</tspan><tspan x="86.34">1</tspan><tspan x="94.05">1</tspan><tspan x="101.77">1</tspan><tspan x="109.49">1</tspan><tspan x="117.21">1</tspan><tspan x="124.93">1</tspan><tspan x="132.65">1</tspan><tspan x="140.37">1</tspan><tspan x="148.09">1</tspan><tspan x="155.81">1</tspan><tspan x="163.53">1</tspan><tspan x="171.25">1</tspan><tspan x="178.96">1</tspan><tspan x="186.68">1</tspan><tspan x="194.4">1</tspan><tspan x="202.12">1</tspan><tspan x="209.84">2</tspan><tspan x="217.56">2</tspan><tspan x="225.28">2</tspan><tspan x="233">2</tspan><tspan x="240.72">2</tspan><tspan x="248.44">2</tspan><tspan x="256.15">2</tspan><tspan x="263.87">2</tspan><tspan x="271.59">2</tspan><tspan x="279.31">2</tspan><tspan x="287.03">2</tspan><tspan x="294.75">2</tspan><tspan x="302.47">2</tspan><tspan x="310.19">2</tspan><tspan x="317.91">2</tspan><tspan x="325.63">2</tspan><tspan x="333.35">2</tspan><tspan x="341.06">2</tspan><tspan x="348.78">2</tspan><tspan x="356.5">2</tspan><tspan x="364.22">2</tspan><tspan x="371.94">2</tspan></text>
<text y="157.6" class="td"><tspan x="55.46">9</tspan><tspan x="63.18">9</tspan><tspan x="70.9">9</tspan><tspan x="78.62">9</tspan><tspan x="86.34">9</tspan><tspan x="94.05">9</tspan><tspan x="101.77">9</tspan><tspan x="109.49">9</tspan><tspan x="117.21">9</tspan><tspan x="124.93">9</tspan><tspan x="132.65">9</tspan><tspan x="140.37">9</tspan><tspan x="148.09">9</tspan><tspan x="155.81">9</tspan><tspan x="163.53">9</tspan><tspan x="171.25">9</tspan><tspan x="178.96">9</tspan><tspan x="186.68">9</tspan><tspan x="194.4">9</tspan><tspan x="202.12">9</tspan><tspan x="209.84">0</tspan><tspan x="217.56">0</tspan><tspan x="225.28">0</tspan><tspan x="233">0</tspan><tspan x="240.72">0</tspan><tspan x="248.44">0</tspan><tspan x="256.15">0</tspan><tspan x="263.87">0</tspan><tspan x="271.59">0</tspan><tspan x="279.31">0</tspan><tspan x="287.03">0</tspan><tspan x="294.75">0</tspan><tspan x="302.47">0</tspan><tspan x="310.19">0</tspan><tspan x="317.91">0</tspan><tspan x="325.63">0</tspan><tspan x="333.35">0</tspan><tspan x="341.06">0</tspan><tspan x="348.78">0</tspan><tspan x="356.5">0</tspan><tspan x="364.22">0</tspan><tspan x="371.94">0</tspan></text>
<text y="162.6" class="td"><tspan x="55.46">7</tspan><tspan x="63.18">7</tspan><tspan x="70.9">8</tspan><tspan x="78.62">8</tspan><tspan x="86.34">8</tspan><tspan x="94.05">8</tspan><tspan x="101.77">8</tspan><tspan x="109.49">8</tspan><tspan x="117.21">8</tspan><tspan x="124.93">8</tspan><tspan x="132.65">9</tspan><tspan x="140.37">9</tspan><tspan x="148.09">9</tspan><tspan x="155.81">9</tspan><tspan x="163.53">9</tspan><tspan x="171.25">9</tspan><tspan x="178.96">9</tspan><tspan x="186.68">9</tspan><tspan x="194.4">9</tspan><tspan x="202.12">9</tspan><tspan x="209.84">0</tspan><tspan x="217.56">0</tspan><tspan x="225.28">0</tspan><tspan x="233">0</tspan><tspan x="240.72">0</tspan><tspan x="248.44">0</tspan><tspan x="256.15">0</tspan><tspan x="263.87">0</tspan><tspan x="271.59">0</tspan><tspan x="279.31">0</tspan><tspan x="287.03">1</tspan><tspan x="294.75">1</tspan><tspan x="302.47">1</tspan><tspan x="310.19">1</tspan><tspan x="317.91">1</tspan><tspan x="325.63">1</tspan><tspan x="333.35">1</tspan><tspan x="341.06">1</tspan><tspan x="348.78">1</tspan><tspan x="356.5">1</tspan><tspan x="364.22">2</tspan><tspan x="371.94">2</tspan></text>
<text y="167.6" class="td"><tspan x="55.46">8</tspan><tspan x="63.18">9</tspan><tspan x="70.9">0</tspan><tspan x="78.62">1</tspan><tspan x="86.34">2</tspan><tspan x="94.05">3</tspan><tspan x="101.77">4</tspan><tspan x="109.49">5</tspan><tspan x="117.21">6</tspan><tspan x="124.93">8</tspan><tspan x="132.65">0</tspan><tspan x="140.37">1</tspan><tspan x="148.09">2</tspan><tspan x="155.81">3</tspan><tspan x="163.53">4</tspan><tspan x="171.25">5</tspan><tspan x="178.96">6</tspan><tspan x="186.68">7</tspan><tspan x="194.4">8</tspan><tspan x="202.12">9</tspan><tspan x="209.84">0</tspan><tspan x="217.56">1</tspan><tspan x="225.28">2</tspan><tspan x="233">3</tspan><tspan x="240.72">4</tspan><tspan x="248.44">5</tspan><tspan x="256.15">6</tspan><tspan x="263.87">7</tspan><tspan x="271.59">8</tspan><tspan x="279.31">9</tspan><tspan x="287.03">0</tspan><tspan x="294.75">1</tspan><tspan x="302.47">2</tspan><tspan x="310.19">3</tspan><tspan x="317.91">4</tspan><tspan x="325.63">5</tspan><tspan x="333.35">6</tspan><tspan x="341.06">7</tspan><tspan x="348.78">8</tspan><tspan x="356.5">9</tspan><tspan x="364.22">0</tspan><tspan x="371.94">1</tspan></text>
<text x="36.3" y="160" class="th">Year</text>
<rect x="20.3" y="323.8" width="353.1" height="5.5" fill="#14d99d"/>
<rect x="20.3" y="329.3" width="353.1" height="5.3" fill="#fe0000"/>
<path d="M20.3 323.8H373.4M20.3 329.3H373.4M20.3 334.6H373.4" stroke="#333" stroke-width="0.3" fill="none"/>
<path d="M51.8 318.6V354.3M59.46 323.8V334.6M67.11 323.8V334.6M74.77 323.8V334.6M82.43 323.8V334.6M90.09 323.8V334.6M97.74 323.8V334.6M105.4 323.8V334.6M113.06 323.8V334.6M120.71 323.8V334.6M128.37 323.8V334.6M136.03 323.8V334.6M143.69 323.8V334.6M151.34 323.8V334.6M159 323.8V334.6M166.66 323.8V334.6M174.31 323.8V334.6M181.97 323.8V334.6M189.63 323.8V334.6M197.29 323.8V334.6M204.94 323.8V334.6M212.6 323.8V334.6M220.26 323.8V334.6M227.91 323.8V334.6M235.57 323.8V334.6M243.23 323.8V334.6M250.89 323.8V334.6M258.54 323.8V334.6M266.2 323.8V334.6M273.86 323.8V334.6M281.51 323.8V334.6M289.17 323.8V334.6M296.83 323.8V334.6M304.49 323.8V334.6M312.14 323.8V334.6M319.8 323.8V334.6M327.46 323.8V334.6M335.11 323.8V334.6M342.77 323.8V334.6M350.43 323.8V334.6M358.09 323.8V334.6M365.74 323.8V334.6" stroke="#222" stroke-width="0.4" fill="none"/>
<rect x="20.3" y="318.6" width="353.1" height="35.7" fill="none" stroke="#555" stroke-width="0.9"/>
<text x="36.35" y="322.9" class="th aa">Amino acid</text>
<text x="212.6" y="322.7" class="th nb">Number</text>
<text x="36.05" y="328.2" class="ta">Y324</text>
<text x="36.05" y="333.6" class="ta tr">I324</text>
<text x="55.63" y="328.1" class="td">1</text>
<text x="55.63" y="333.5" class="td">0</text>
<text x="63.29" y="328.1" class="td">3</text>
<text x="63.29" y="333.5" class="td">0</text>
<text x="70.94" y="328.1" class="td">11</text>
<text x="70.94" y="333.5" class="td">0</text>
<text x="78.6" y="328.1" class="td">1</text>
<text x="78.6" y="333.5" class="td">0</text>
<text x="86.26" y="328.1" class="td">2</text>
<text x="86.26" y="333.5" class="td">0</text>
<text x="93.91" y="328.1" class="td">6</text>
<text x="93.91" y="333.5" class="td">0</text>
<text x="101.57" y="328.1" class="td">5</text>
<text x="101.57" y="333.5" class="td">0</text>
<text x="109.23" y="328.1" class="td">6</text>
<text x="109.23" y="333.5" class="td">0</text>
<text x="116.89" y="328.1" class="td">6</text>
<text x="116.89" y="333.5" class="td">0</text>
<text x="124.54" y="328.1" class="td">2</text>
<text x="124.54" y="333.5" class="td">0</text>
<text x="132.2" y="328.1" class="td">4</text>
<text x="132.2" y="333.5" class="td">0</text>
<text x="139.86" y="328.1" class="td">4</text>
<text x="139.86" y="333.5" class="td">0</text>
<text x="147.51" y="328.1" class="td">4</text>
<text x="147.51" y="333.5" class="td">0</text>
<text x="155.17" y="328.1" class="td">9</text>
<text x="155.17" y="333.5" class="td">0</text>
<text x="162.83" y="328.1" class="td">6</text>
<text x="162.83" y="333.5" class="td">0</text>
<text x="170.49" y="328.1" class="td">24</text>
<text x="170.49" y="333.5" class="td">0</text>
<text x="178.14" y="328.1" class="td">10</text>
<text x="178.14" y="333.5" class="td">0</text>
<text x="185.8" y="328.1" class="td">31</text>
<text x="185.8" y="333.5" class="td">0</text>
<text x="193.46" y="328.1" class="td">13</text>
<text x="193.46" y="333.5" class="td">0</text>
<text x="201.11" y="328.1" class="td">13</text>
<text x="201.11" y="333.5" class="td">0</text>
<text x="208.77" y="328.1" class="td">19</text>
<text x="208.77" y="333.5" class="td">0</text>
<text x="216.43" y="328.1" class="td">21</text>
<text x="216.43" y="333.5" class="td">0</text>
<text x="224.09" y="328.1" class="td">16</text>
<text x="224.09" y="333.5" class="td">0</text>
<text x="231.74" y="328.1" class="td">31</text>
<text x="231.74" y="333.5" class="td">0</text>
<text x="239.4" y="328.1" class="td">26</text>
<text x="239.4" y="333.5" class="td">0</text>
<text x="247.06" y="328.1" class="td">67</text>
<text x="247.06" y="333.5" class="td">0</text>
<text x="254.71" y="328.1" class="td">45</text>
<text x="254.71" y="333.5" class="td">3</text>
<text x="262.37" y="328.1" class="td">87</text>
<text x="262.37" y="333.5" class="td">35</text>
<text x="270.03" y="328.1" class="td">145</text>
<text x="270.03" y="333.5" class="td">35</text>
<text x="277.69" y="328.1" class="td">130</text>
<text x="277.69" y="333.5" class="td">31</text>
<text x="285.34" y="328.1" class="td">124</text>
<text x="285.34" y="333.5" class="td">48</text>
<text x="293" y="328.1" class="td">189</text>
<text x="293" y="333.5" class="td">79</text>
<text x="300.66" y="328.1" class="td">206</text>
<text x="300.66" y="333.5" class="td">63</text>
<text x="308.31" y="328.1" class="td">189</text>
<text x="308.31" y="333.5" class="td">153</text>
<text x="315.97" y="328.1" class="td">131</text>
<text x="315.97" y="333.5" class="td">367</text>
<text x="323.63" y="328.1" class="td">161</text>
<text x="323.63" y="333.5" class="td">306</text>
<text x="331.29" y="328.1" class="td">129</text>
<text x="331.29" y="333.5" class="td">248</text>
<text x="338.94" y="328.1" class="td">188</text>
<text x="338.94" y="333.5" class="td">320</text>
<text x="346.6" y="328.1" class="td">140</text>
<text x="346.6" y="333.5" class="td">349</text>
<text x="354.26" y="328.1" class="td">102</text>
<text x="354.26" y="333.5" class="td">429</text>
<text x="361.91" y="328.1" class="td">103</text>
<text x="361.91" y="333.5" class="td">100</text>
<text x="369.57" y="328.1" class="td">0</text>
<text x="369.57" y="333.5" class="td">65</text>
<text y="338.7" class="td"><tspan x="55.63">1</tspan><tspan x="63.29">1</tspan><tspan x="70.94">1</tspan><tspan x="78.6">1</tspan><tspan x="86.26">1</tspan><tspan x="93.91">1</tspan><tspan x="101.57">1</tspan><tspan x="109.23">1</tspan><tspan x="116.89">1</tspan><tspan x="124.54">1</tspan><tspan x="132.2">1</tspan><tspan x="139.86">1</tspan><tspan x="147.51">1</tspan><tspan x="155.17">1</tspan><tspan x="162.83">1</tspan><tspan x="170.49">1</tspan><tspan x="178.14">1</tspan><tspan x="185.8">1</tspan><tspan x="193.46">1</tspan><tspan x="201.11">1</tspan><tspan x="208.77">2</tspan><tspan x="216.43">2</tspan><tspan x="224.09">2</tspan><tspan x="231.74">2</tspan><tspan x="239.4">2</tspan><tspan x="247.06">2</tspan><tspan x="254.71">2</tspan><tspan x="262.37">2</tspan><tspan x="270.03">2</tspan><tspan x="277.69">2</tspan><tspan x="285.34">2</tspan><tspan x="293">2</tspan><tspan x="300.66">2</tspan><tspan x="308.31">2</tspan><tspan x="315.97">2</tspan><tspan x="323.63">2</tspan><tspan x="331.29">2</tspan><tspan x="338.94">2</tspan><tspan x="346.6">2</tspan><tspan x="354.26">2</tspan><tspan x="361.91">2</tspan><tspan x="369.57">2</tspan></text>
<text y="343.7" class="td"><tspan x="55.63">9</tspan><tspan x="63.29">9</tspan><tspan x="70.94">9</tspan><tspan x="78.6">9</tspan><tspan x="86.26">9</tspan><tspan x="93.91">9</tspan><tspan x="101.57">9</tspan><tspan x="109.23">9</tspan><tspan x="116.89">9</tspan><tspan x="124.54">9</tspan><tspan x="132.2">9</tspan><tspan x="139.86">9</tspan><tspan x="147.51">9</tspan><tspan x="155.17">9</tspan><tspan x="162.83">9</tspan><tspan x="170.49">9</tspan><tspan x="178.14">9</tspan><tspan x="185.8">9</tspan><tspan x="193.46">9</tspan><tspan x="201.11">9</tspan><tspan x="208.77">0</tspan><tspan x="216.43">0</tspan><tspan x="224.09">0</tspan><tspan x="231.74">0</tspan><tspan x="239.4">0</tspan><tspan x="247.06">0</tspan><tspan x="254.71">0</tspan><tspan x="262.37">0</tspan><tspan x="270.03">0</tspan><tspan x="277.69">0</tspan><tspan x="285.34">0</tspan><tspan x="293">0</tspan><tspan x="300.66">0</tspan><tspan x="308.31">0</tspan><tspan x="315.97">0</tspan><tspan x="323.63">0</tspan><tspan x="331.29">0</tspan><tspan x="338.94">0</tspan><tspan x="346.6">0</tspan><tspan x="354.26">0</tspan><tspan x="361.91">0</tspan><tspan x="369.57">0</tspan></text>
<text y="348.7" class="td"><tspan x="55.63">7</tspan><tspan x="63.29">7</tspan><tspan x="70.94">8</tspan><tspan x="78.6">8</tspan><tspan x="86.26">8</tspan><tspan x="93.91">8</tspan><tspan x="101.57">8</tspan><tspan x="109.23">8</tspan><tspan x="116.89">8</tspan><tspan x="124.54">8</tspan><tspan x="132.2">9</tspan><tspan x="139.86">9</tspan><tspan x="147.51">9</tspan><tspan x="155.17">9</tspan><tspan x="162.83">9</tspan><tspan x="170.49">9</tspan><tspan x="178.14">9</tspan><tspan x="185.8">9</tspan><tspan x="193.46">9</tspan><tspan x="201.11">9</tspan><tspan x="208.77">0</tspan><tspan x="216.43">0</tspan><tspan x="224.09">0</tspan><tspan x="231.74">0</tspan><tspan x="239.4">0</tspan><tspan x="247.06">0</tspan><tspan x="254.71">0</tspan><tspan x="262.37">0</tspan><tspan x="270.03">0</tspan><tspan x="277.69">0</tspan><tspan x="285.34">1</tspan><tspan x="293">1</tspan><tspan x="300.66">1</tspan><tspan x="308.31">1</tspan><tspan x="315.97">1</tspan><tspan x="323.63">1</tspan><tspan x="331.29">1</tspan><tspan x="338.94">1</tspan><tspan x="346.6">1</tspan><tspan x="354.26">1</tspan><tspan x="361.91">2</tspan><tspan x="369.57">2</tspan></text>
<text y="353.7" class="td"><tspan x="55.63">8</tspan><tspan x="63.29">9</tspan><tspan x="70.94">0</tspan><tspan x="78.6">1</tspan><tspan x="86.26">2</tspan><tspan x="93.91">3</tspan><tspan x="101.57">4</tspan><tspan x="109.23">5</tspan><tspan x="116.89">6</tspan><tspan x="124.54">8</tspan><tspan x="132.2">0</tspan><tspan x="139.86">1</tspan><tspan x="147.51">2</tspan><tspan x="155.17">3</tspan><tspan x="162.83">4</tspan><tspan x="170.49">5</tspan><tspan x="178.14">6</tspan><tspan x="185.8">7</tspan><tspan x="193.46">8</tspan><tspan x="201.11">9</tspan><tspan x="208.77">0</tspan><tspan x="216.43">1</tspan><tspan x="224.09">2</tspan><tspan x="231.74">3</tspan><tspan x="239.4">4</tspan><tspan x="247.06">5</tspan><tspan x="254.71">6</tspan><tspan x="262.37">7</tspan><tspan x="270.03">8</tspan><tspan x="277.69">9</tspan><tspan x="285.34">0</tspan><tspan x="293">1</tspan><tspan x="300.66">2</tspan><tspan x="308.31">3</tspan><tspan x="315.97">4</tspan><tspan x="323.63">5</tspan><tspan x="331.29">6</tspan><tspan x="338.94">7</tspan><tspan x="346.6">8</tspan><tspan x="354.26">9</tspan><tspan x="361.91">0</tspan><tspan x="369.57">1</tspan></text>
<text x="36.05" y="345.95" class="th">Year</text>
<rect x="21.2" y="508.5" width="351.3" height="5.2" fill="#14d99d"/>
<rect x="21.2" y="513.7" width="351.3" height="5.3" fill="#fe0000"/>
<path d="M21.2 508.5H372.5M21.2 513.7H372.5M21.2 519H372.5" stroke="#333" stroke-width="0.3" fill="none"/>
<path d="M52.4 502.8V538.4M60.02 508.5V519M67.64 508.5V519M75.26 508.5V519M82.89 508.5V519M90.51 508.5V519M98.13 508.5V519M105.75 508.5V519M113.37 508.5V519M120.99 508.5V519M128.61 508.5V519M136.24 508.5V519M143.86 508.5V519M151.48 508.5V519M159.1 508.5V519M166.72 508.5V519M174.34 508.5V519M181.96 508.5V519M189.59 508.5V519M197.21 508.5V519M204.83 508.5V519M212.45 508.5V519M220.07 508.5V519M227.69 508.5V519M235.31 508.5V519M242.94 508.5V519M250.56 508.5V519M258.18 508.5V519M265.8 508.5V519M273.42 508.5V519M281.04 508.5V519M288.66 508.5V519M296.29 508.5V519M303.91 508.5V519M311.53 508.5V519M319.15 508.5V519M326.77 508.5V519M334.39 508.5V519M342.01 508.5V519M349.64 508.5V519M357.26 508.5V519M364.88 508.5V519" stroke="#222" stroke-width="0.4" fill="none"/>
<rect x="21.2" y="502.8" width="351.3" height="35.6" fill="none" stroke="#555" stroke-width="0.9"/>
<text x="37.1" y="507.1" class="th aa">Amino acid</text>
<text x="212.45" y="506.9" class="th nb">Number</text>
<text x="36.8" y="512.9" class="ta">T440</text>
<text x="36.8" y="518" class="ta tr">A440</text>
<text x="56.21" y="512.8" class="td">1</text>
<text x="56.21" y="517.9" class="td">0</text>
<text x="63.83" y="512.8" class="td">3</text>
<text x="63.83" y="517.9" class="td">0</text>
<text x="71.45" y="512.8" class="td">11</text>
<text x="71.45" y="517.9" class="td">0</text>
<text x="79.08" y="512.8" class="td">1</text>
<text x="79.08" y="517.9" class="td">0</text>
<text x="86.7" y="512.8" class="td">2</text>
<text x="86.7" y="517.9" class="td">0</text>
<text x="94.32" y="512.8" class="td">6</text>
<text x="94.32" y="517.9" class="td">0</text>
<text x="101.94" y="512.8" class="td">5</text>
<text x="101.94" y="517.9" class="td">0</text>
<text x="109.56" y="512.8" class="td">6</text>
<text x="109.56" y="517.9" class="td">0</text>
<text x="117.18" y="512.8" class="td">6</text>
<text x="117.18" y="517.9" class="td">0</text>
<text x="124.8" y="512.8" class="td">2</text>
<text x="124.8" y="517.9" class="td">0</text>
<text x="132.43" y="512.8" class="td">4</text>
<text x="132.43" y="517.9" class="td">0</text>
<text x="140.05" y="512.8" class="td">4</text>
<text x="140.05" y="517.9" class="td">0</text>
<text x="147.67" y="512.8" class="td">4</text>
<text x="147.67" y="517.9" class="td">0</text>
<text x="155.29" y="512.8" class="td">12</text>
<text x="155.29" y="517.9" class="td">0</text>
<text x="162.91" y="512.8" class="td">6</text>
<text x="162.91" y="517.9" class="td">0</text>
<text x="170.53" y="512.8" class="td">25</text>
<text x="170.53" y="517.9" class="td">0</text>
<text x="178.15" y="512.8" class="td">12</text>
<text x="178.15" y="517.9" class="td">0</text>
<text x="185.78" y="512.8" class="td">31</text>
<text x="185.78" y="517.9" class="td">1</text>
<text x="193.4" y="512.8" class="td">19</text>
<text x="193.4" y="517.9" class="td">0</text>
<text x="201.02" y="512.8" class="td">14</text>
<text x="201.02" y="517.9" class="td">0</text>
<text x="208.64" y="512.8" class="td">29</text>
<text x="208.64" y="517.9" class="td">0</text>
<text x="216.26" y="512.8" class="td">29</text>
<text x="216.26" y="517.9" class="td">4</text>
<text x="223.88" y="512.8" class="td">17</text>
<text x="223.88" y="517.9" class="td">0</text>
<text x="231.5" y="512.8" class="td">33</text>
<text x="231.5" y="517.9" class="td">2</text>
<text x="239.13" y="512.8" class="td">22</text>
<text x="239.13" y="517.9" class="td">3</text>
<text x="246.75" y="512.8" class="td">48</text>
<text x="246.75" y="517.9" class="td">7</text>
<text x="254.37" y="512.8" class="td">66</text>
<text x="254.37" y="517.9" class="td">9</text>
<text x="261.99" y="512.8" class="td">112</text>
<text x="261.99" y="517.9" class="td">26</text>
<text x="269.61" y="512.8" class="td">232</text>
<text x="269.61" y="517.9" class="td">14</text>
<text x="277.23" y="512.8" class="td">179</text>
<text x="277.23" y="517.9" class="td">24</text>
<text x="284.85" y="512.8" class="td">297</text>
<text x="284.85" y="517.9" class="td">80</text>
<text x="292.48" y="512.8" class="td">197</text>
<text x="292.48" y="517.9" class="td">94</text>
<text x="300.1" y="512.8" class="td">229</text>
<text x="300.1" y="517.9" class="td">34</text>
<text x="307.72" y="512.8" class="td">280</text>
<text x="307.72" y="517.9" class="td">110</text>
<text x="315.34" y="512.8" class="td">296</text>
<text x="315.34" y="517.9" class="td">272</text>
<text x="322.96" y="512.8" class="td">258</text>
<text x="322.96" y="517.9" class="td">197</text>
<text x="330.58" y="512.8" class="td">297</text>
<text x="330.58" y="517.9" class="td">131</text>
<text x="338.2" y="512.8" class="td">388</text>
<text x="338.2" y="517.9" class="td">243</text>
<text x="345.82" y="512.8" class="td">308</text>
<text x="345.82" y="517.9" class="td">181</text>
<text x="353.45" y="512.8" class="td">421</text>
<text x="353.45" y="517.9" class="td">208</text>
<text x="361.07" y="512.8" class="td">165</text>
<text x="361.07" y="517.9" class="td">67</text>
<text x="368.69" y="512.8" class="td">47</text>
<text x="368.69" y="517.9" class="td">20</text>
<text y="523.1" class="td"><tspan x="56.21">1</tspan><tspan x="63.83">1</tspan><tspan x="71.45">1</tspan><tspan x="79.08">1</tspan><tspan x="86.7">1</tspan><tspan x="94.32">1</tspan><tspan x="101.94">1</tspan><tspan x="109.56">1</tspan><tspan x="117.18">1</tspan><tspan x="124.8">1</tspan><tspan x="132.43">1</tspan><tspan x="140.05">1</tspan><tspan x="147.67">1</tspan><tspan x="155.29">1</tspan><tspan x="162.91">1</tspan><tspan x="170.53">1</tspan><tspan x="178.15">1</tspan><tspan x="185.78">1</tspan><tspan x="193.4">1</tspan><tspan x="201.02">1</tspan><tspan x="208.64">2</tspan><tspan x="216.26">2</tspan><tspan x="223.88">2</tspan><tspan x="231.5">2</tspan><tspan x="239.13">2</tspan><tspan x="246.75">2</tspan><tspan x="254.37">2</tspan><tspan x="261.99">2</tspan><tspan x="269.61">2</tspan><tspan x="277.23">2</tspan><tspan x="284.85">2</tspan><tspan x="292.48">2</tspan><tspan x="300.1">2</tspan><tspan x="307.72">2</tspan><tspan x="315.34">2</tspan><tspan x="322.96">2</tspan><tspan x="330.58">2</tspan><tspan x="338.2">2</tspan><tspan x="345.82">2</tspan><tspan x="353.45">2</tspan><tspan x="361.07">2</tspan><tspan x="368.69">2</tspan></text>
<text y="528.1" class="td"><tspan x="56.21">9</tspan><tspan x="63.83">9</tspan><tspan x="71.45">9</tspan><tspan x="79.08">9</tspan><tspan x="86.7">9</tspan><tspan x="94.32">9</tspan><tspan x="101.94">9</tspan><tspan x="109.56">9</tspan><tspan x="117.18">9</tspan><tspan x="124.8">9</tspan><tspan x="132.43">9</tspan><tspan x="140.05">9</tspan><tspan x="147.67">9</tspan><tspan x="155.29">9</tspan><tspan x="162.91">9</tspan><tspan x="170.53">9</tspan><tspan x="178.15">9</tspan><tspan x="185.78">9</tspan><tspan x="193.4">9</tspan><tspan x="201.02">9</tspan><tspan x="208.64">0</tspan><tspan x="216.26">0</tspan><tspan x="223.88">0</tspan><tspan x="231.5">0</tspan><tspan x="239.13">0</tspan><tspan x="246.75">0</tspan><tspan x="254.37">0</tspan><tspan x="261.99">0</tspan><tspan x="269.61">0</tspan><tspan x="277.23">0</tspan><tspan x="284.85">0</tspan><tspan x="292.48">0</tspan><tspan x="300.1">0</tspan><tspan x="307.72">0</tspan><tspan x="315.34">0</tspan><tspan x="322.96">0</tspan><tspan x="330.58">0</tspan><tspan x="338.2">0</tspan><tspan x="345.82">0</tspan><tspan x="353.45">0</tspan><tspan x="361.07">0</tspan><tspan x="368.69">0</tspan></text>
<text y="533.1" class="td"><tspan x="56.21">7</tspan><tspan x="63.83">7</tspan><tspan x="71.45">8</tspan><tspan x="79.08">8</tspan><tspan x="86.7">8</tspan><tspan x="94.32">8</tspan><tspan x="101.94">8</tspan><tspan x="109.56">8</tspan><tspan x="117.18">8</tspan><tspan x="124.8">8</tspan><tspan x="132.43">9</tspan><tspan x="140.05">9</tspan><tspan x="147.67">9</tspan><tspan x="155.29">9</tspan><tspan x="162.91">9</tspan><tspan x="170.53">9</tspan><tspan x="178.15">9</tspan><tspan x="185.78">9</tspan><tspan x="193.4">9</tspan><tspan x="201.02">9</tspan><tspan x="208.64">0</tspan><tspan x="216.26">0</tspan><tspan x="223.88">0</tspan><tspan x="231.5">0</tspan><tspan x="239.13">0</tspan><tspan x="246.75">0</tspan><tspan x="254.37">0</tspan><tspan x="261.99">0</tspan><tspan x="269.61">0</tspan><tspan x="277.23">0</tspan><tspan x="284.85">1</tspan><tspan x="292.48">1</tspan><tspan x="300.1">1</tspan><tspan x="307.72">1</tspan><tspan x="315.34">1</tspan><tspan x="322.96">1</tspan><tspan x="330.58">1</tspan><tspan x="338.2">1</tspan><tspan x="345.82">1</tspan><tspan x="353.45">1</tspan><tspan x="361.07">2</tspan><tspan x="368.69">2</tspan></text>
<text y="538.1" class="td"><tspan x="56.21">8</tspan><tspan x="63.83">9</tspan><tspan x="71.45">0</tspan><tspan x="79.08">1</tspan><tspan x="86.7">2</tspan><tspan x="94.32">3</tspan><tspan x="101.94">4</tspan><tspan x="109.56">5</tspan><tspan x="117.18">6</tspan><tspan x="124.8">8</tspan><tspan x="132.43">0</tspan><tspan x="140.05">1</tspan><tspan x="147.67">2</tspan><tspan x="155.29">3</tspan><tspan x="162.91">4</tspan><tspan x="170.53">5</tspan><tspan x="178.15">6</tspan><tspan x="185.78">7</tspan><tspan x="193.4">8</tspan><tspan x="201.02">9</tspan><tspan x="208.64">0</tspan><tspan x="216.26">1</tspan><tspan x="223.88">2</tspan><tspan x="231.5">3</tspan><tspan x="239.13">4</tspan><tspan x="246.75">5</tspan><tspan x="254.37">6</tspan><tspan x="261.99">7</tspan><tspan x="269.61">8</tspan><tspan x="277.23">9</tspan><tspan x="284.85">0</tspan><tspan x="292.48">1</tspan><tspan x="300.1">2</tspan><tspan x="307.72">3</tspan><tspan x="315.34">4</tspan><tspan x="322.96">5</tspan><tspan x="330.58">6</tspan><tspan x="338.2">7</tspan><tspan x="345.82">8</tspan><tspan x="353.45">9</tspan><tspan x="361.07">0</tspan><tspan x="368.69">1</tspan></text>
<text x="36.8" y="530.2" class="th">Year</text>
</svg></body></html>
